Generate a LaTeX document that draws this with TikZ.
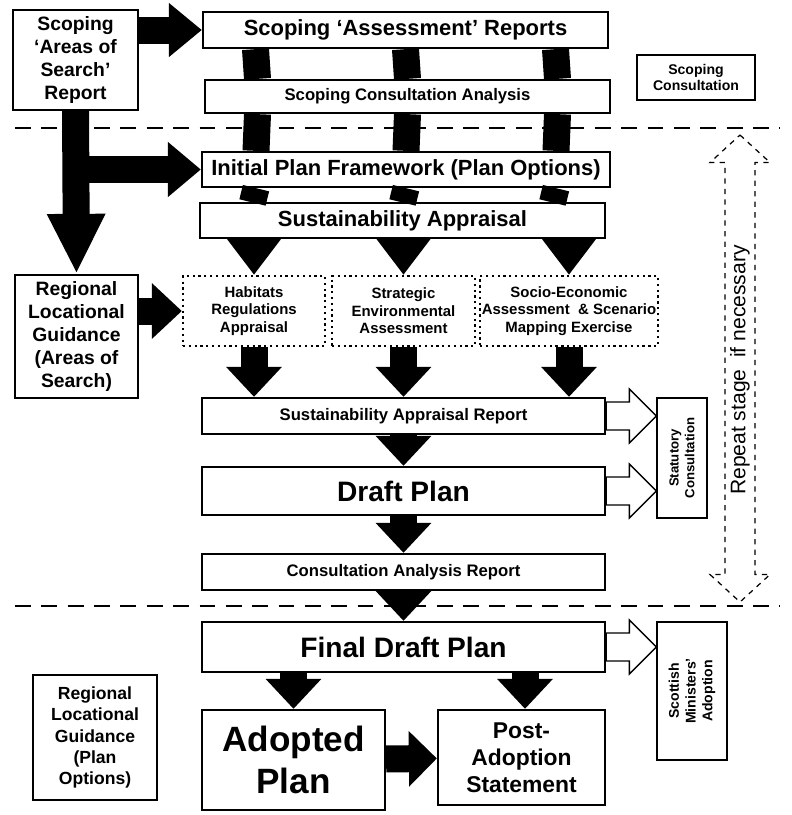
\documentclass[tikz,border=0pt]{standalone}
\usepackage{fontspec}
\setmainfont{Liberation Sans}
\usetikzlibrary{arrows.meta, calc}
\tikzset{
    box/.style={draw, line width=1.3pt, fill=white, align=center, font=\bfseries, inner sep=1pt},
    softbox/.style={box, line width=0.6pt},
    study/.style={box, line width=1.3pt, dotted},
    note/.style={box, line width=0.8pt},
    shaft/.style={line width=0.54cm},
    blk/.style={shaft, -{Triangle[width=1.08cm, length=#1]}},
    blk/.default=0.6cm,
    hollow/.style={line width=0.8pt, fill=white},
    stage/.style={line width=1.4pt, dash pattern=on 9pt off 6pt},
}
\newcommand{\hollowarrow}[2]{%
    \draw[hollow] let \p1=(#1.east), \p2=(#2.west) in
        (\x1,\y1+0.28cm) -- (\x2-0.54cm,\y1+0.28cm) -- (\x2-0.54cm,\y1+0.54cm) -- (\x2,\y1)
        -- (\x2-0.54cm,\y1-0.54cm) -- (\x2-0.54cm,\y1-0.28cm) -- (\x1,\y1-0.28cm) -- cycle;}
\begin{document}
\begin{tikzpicture}
    \useasboundingbox (0,0) rectangle (15.84,-16.3);
    % stage boundaries
    \draw[stage] (0.3,-2.56) -- (15.6,-2.56);
    \draw[stage] (0.3,-12.12) -- (15.6,-12.12);
    % scoping stage
    \node[box, minimum width=2.5cm, minimum height=2cm, font=\bfseries\fontsize{11}{13}\selectfont] (AoS) at (1.51,-1.2) {Scoping\\‘Areas of\\Search’\\Report};
    \node[box, minimum width=8.1cm, minimum height=0.72cm, font=\bfseries\fontsize{12.5}{14}\selectfont] (ScopeAss) at (8.11,-0.6) {Scoping ‘Assessment’ Reports};
    \node[box, minimum width=8.1cm, minimum height=0.66cm, font=\bfseries\fontsize{9.5}{11}\selectfont] (SCA) at (8.15,-1.93) {Scoping Consultation Analysis};
    \node[note, minimum width=2.36cm, minimum height=0.9cm, font=\bfseries\fontsize{8}{9.5}\selectfont] (ScopeCons) at (13.92,-1.55) {Scoping\\Consultation};
    % plan preparation
    \node[box, minimum width=8.16cm, minimum height=0.7cm, font=\bfseries\fontsize{12.5}{14}\selectfont] (IPF) at (8.12,-3.39) {Initial Plan Framework (Plan Options)};
    \node[softbox, minimum width=8.1cm, minimum height=0.7cm, font=\bfseries\fontsize{12.5}{14}\selectfont] (SusApp) at (8.05,-4.41) {Sustainability Appraisal};
    \node[study, minimum width=2.84cm, minimum height=1.4cm, font=\bfseries\fontsize{8.5}{10}\selectfont] (HRA) at (5.08,-6.22) {Habitats\\Regulations\\Appraisal};
    \node[study, minimum width=2.86cm, minimum height=1.4cm, font=\bfseries\fontsize{8.5}{10}\selectfont] (SEA) at (8.07,-6.22) {Strategic\\Environmental\\Assessment};
    \node[study, minimum width=3.44cm, minimum height=1.4cm, font=\bfseries\fontsize{8.5}{10}\selectfont] (SocEc) at (11.38,-6.22) {Socio-Economic\\Assessment \ \& Scenario\\Mapping Exercise};
    \node[box, minimum width=2.46cm, minimum height=2.46cm, font=\bfseries\fontsize{11}{13}\selectfont] (RLGSearch) at (1.53,-6.73) {Regional\\Locational\\Guidance\\(Areas of\\Search)};
    \node[box, minimum width=8.06cm, minimum height=0.72cm, font=\bfseries\fontsize{9.5}{11}\selectfont] (SARep) at (8.07,-8.32) {Sustainability Appraisal Report};
    \node[box, minimum width=8.06cm, minimum height=0.96cm, font=\bfseries\fontsize{16}{18}\selectfont] (Draft) at (8.07,-9.82) {Draft Plan};
    \node[note, minimum width=1cm, minimum height=2.4cm] (StatCons) at (13.64,-9.16) {};
    \node[rotate=90, align=center, font=\bfseries\fontsize{7.5}{9}\selectfont] at (StatCons) {Statutory\\Consultation};
    \node[box, minimum width=8.06cm, minimum height=0.72cm, font=\bfseries\fontsize{9.5}{11}\selectfont] (CAR) at (8.07,-11.44) {Consultation Analysis Report};
    % adoption stage
    \node[box, minimum width=8.06cm, minimum height=1cm, font=\bfseries\fontsize{16}{18}\selectfont] (Final) at (8.07,-12.94) {Final Draft Plan};
    \node[note, minimum width=1.4cm, minimum height=2.76cm] (SMA) at (13.84,-13.82) {};
    \node[rotate=90, align=center, font=\bfseries\fontsize{8}{9.5}\selectfont] at (SMA) {Scottish\\Ministers’\\Adoption};
    \node[box, minimum width=3.66cm, minimum height=2cm, font=\bfseries\fontsize{20}{24}\selectfont] (Adopted) at (5.87,-15.2) {Adopted\\Plan};
    \node[box, minimum width=3.34cm, minimum height=1.9cm, font=\bfseries\fontsize{13}{15.5}\selectfont] (PostAd) at (10.43,-15.15) {Post-\\Adoption\\Statement};
    \node[box, minimum width=2.48cm, minimum height=2.5cm, font=\bfseries\fontsize{10}{12}\selectfont] (RLGPlan) at (1.9,-14.75) {Regional\\Locational\\Guidance\\(Plan\\Options)};
    % main flow
    \foreach \dx in {-3,0,3} {
        \draw[shaft] ([xshift=\dx cm]ScopeAss.south) -- ([xshift=\dx cm]SCA.north);
        \draw[shaft] ([xshift=\dx cm]SCA.south) -- ([xshift=\dx cm]IPF.north);
        \draw[shaft] ([xshift=\dx cm]IPF.south) -- ([xshift=\dx cm]SusApp.north);
    }
    \foreach \n in {HRA,SEA,SocEc} {
        \draw[blk=0.75cm] (SusApp.south -| \n) -- (\n.north);
        \draw[blk] (\n.south) -- (SARep.north -| \n);
    }
    \draw[blk=0.6cm] (SARep) -- (Draft);
    \draw[blk=0.6cm] (Draft) -- (CAR);
    \draw[blk=0.6cm] (CAR) -- (Final);
    \draw[blk] (Final.south -| Adopted) -- (Adopted.north);
    \draw[blk] (Final.south -| 10.5,0) -- (PostAd.north -| 10.5,0);
    \draw[blk=0.56cm] (Adopted) -- (PostAd);
    % scoping inputs
    \draw[shaft, -{Triangle[width=1.04cm, length=0.66cm]}] (AoS.east |- ScopeAss) -- (ScopeAss.west);
    \draw[blk=1.2cm] (AoS.south) -- (RLGSearch.north);
    \draw[shaft, -{Triangle[width=1.06cm, length=0.66cm]}] (AoS.south |- IPF) -- (IPF.west);
    \draw[blk=0.6cm] (RLGSearch.east |- HRA) -- (HRA.west);
    % consultations
    \hollowarrow{SARep}{StatCons}
    \hollowarrow{Draft}{StatCons}
    \hollowarrow{Final}{SMA}
    % repeat loop
    \coordinate (RepTop) at (14.8,-2.7);
    \coordinate (RepBot) at (14.8,-12.04);
    \draw[line width=0.7pt, dashed] (RepTop) -- ++(0.6,-0.55) -- ++(-0.3,0) |- ($(RepBot)+(0.3,0.55)$) -- ++(0.3,0) -- (RepBot)
        -- ++(-0.6,0.55) -- ++(0.3,0) |- ($(RepTop)+(-0.3,-0.55)$) -- ++(-0.3,0) -- cycle;
    \node[rotate=90, fill=white, inner sep=1pt, font=\fontsize{12}{14}\selectfont] (Repeat) at (14.8,-7.4) {Repeat stage \ if necessary};
\end{tikzpicture}
\end{document}
